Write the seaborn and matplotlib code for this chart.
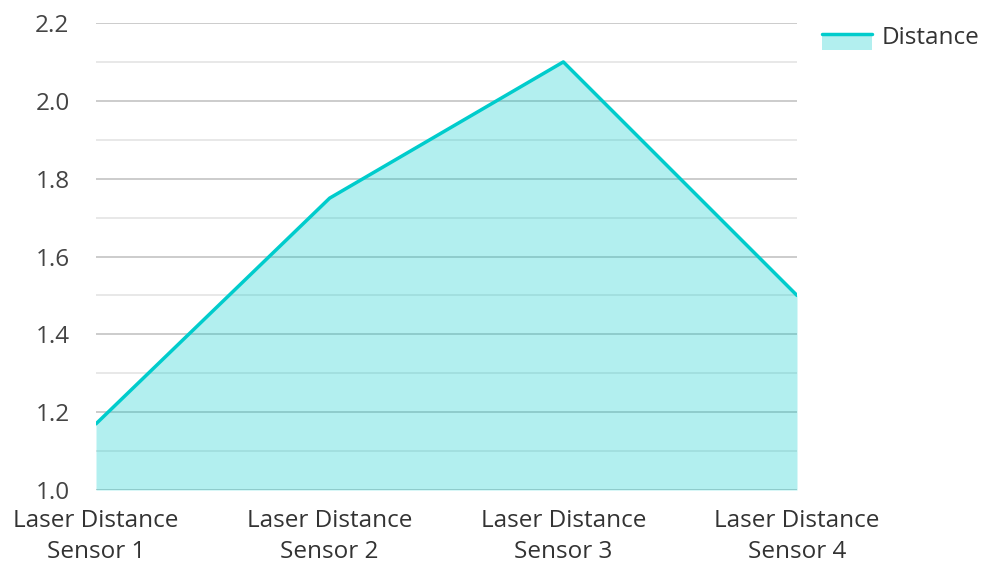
import numpy as np
import pandas as pd
import matplotlib
matplotlib.use("Agg")
import matplotlib.pyplot as plt
import seaborn as sns
from matplotlib.ticker import MultipleLocator
from matplotlib.patches import Rectangle
from matplotlib.lines import Line2D
from matplotlib.legend_handler import HandlerBase

# Data
sensors = ["Laser Distance\nSensor 1", "Laser Distance\nSensor 2",
           "Laser Distance\nSensor 3", "Laser Distance\nSensor 4"]
distance = [1.17, 1.75, 2.10, 1.50]
series_name = "Distance"

line_color = "#00CCCC"

sns.set_theme(style="white")
plt.rcParams["font.family"] = ["Open Sans", "DejaVu Sans"]

df = pd.DataFrame({"pos": np.arange(len(sensors)), "value": distance})

fig = plt.figure(figsize=(9.84, 5.62), dpi=100)
ax = fig.add_axes([96 / 984, 1 - 490 / 562, (797 - 96) / 984, (490 - 23) / 562])

# grid lines: major every 0.2, minor every 0.1
ax.yaxis.set_major_locator(MultipleLocator(0.2))
ax.yaxis.set_minor_locator(MultipleLocator(0.1))
ax.grid(which="major", axis="y", color="#c8c8c8", linewidth=1.3)
ax.grid(which="minor", axis="y", color="#e6e6e6", linewidth=1.3)
ax.grid(axis="x", visible=False)
ax.set_axisbelow(True)

ax.fill_between(df["pos"], df["value"], 1.0, color=line_color, alpha=0.3, linewidth=0, zorder=2)
sns.lineplot(data=df, x="pos", y="value", color=line_color, linewidth=2.5, ax=ax, zorder=3)

ax.set_xlim(0, len(sensors) - 1)
ax.set_ylim(1.0, 2.2)
ax.set_xticks(df["pos"])
ax.set_xticklabels(sensors, linespacing=1.39)
ax.yaxis.set_major_formatter(matplotlib.ticker.FormatStrFormatter("%.1f"))
ax.tick_params(axis="y", which="both", length=0, pad=19, labelsize=17.5, labelcolor="#444444")
ax.tick_params(axis="x", length=0, pad=13.5, labelsize=17.5, labelcolor="#333333")
ax.set_xlabel("")
ax.set_ylabel("")
for s in ax.spines.values():
    s.set_visible(False)


# legend swatch: light area with the line along its top edge
class AreaHandler(HandlerBase):
    def create_artists(self, legend, orig_handle, xdescent, ydescent,
                       width, height, fontsize, trans):
        y0 = -ydescent - 4.7
        r = Rectangle((-xdescent, y0), width, height, facecolor=line_color,
                      alpha=0.3, linewidth=0, transform=trans)
        y_top = y0 + height
        ln = Line2D([-xdescent, -xdescent + width], [y_top, y_top],
                    color=line_color, linewidth=2.5, transform=trans)
        return [r, ln]


handle = Rectangle((0, 0), 1, 1)
fig.legend([handle], [series_name], handler_map={Rectangle: AreaHandler()},
           loc="upper left", bbox_to_anchor=(822 / 984, 1 - 26 / 562),
           frameon=False, fontsize=17.5, handlelength=2.05, handleheight=0.6,
           handletextpad=0.42, borderpad=0, borderaxespad=0, labelcolor="#333333")

fig.savefig("out.png", dpi=100)
